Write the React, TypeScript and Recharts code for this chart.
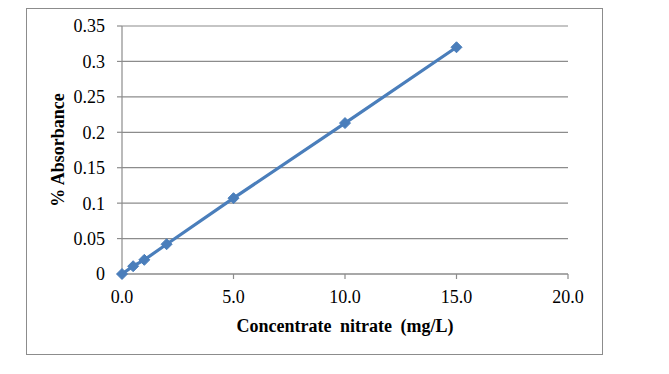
import React from 'react';
import { LineChart, Line, XAxis, YAxis, CartesianGrid } from 'recharts';

const concentrations = [0, 0.5, 1, 2, 5, 10, 15];
const absorbance = [0, 0.011, 0.02, 0.042, 0.107, 0.213, 0.32];
const xTicks = [0, 5, 10, 15, 20];
const yTicks = [0, 0.05, 0.1, 0.15, 0.2, 0.25, 0.3, 0.35];
const yTickLabels = ['0', '0.05', '0.1', '0.15', '0.2', '0.25', '0.3', '0.35'];

const data = concentrations.map((c, i) => ({ x: c, y: absorbance[i] }));

const FONT = '"Liberation Serif", "Times New Roman", serif';
const BLUE = '#4A7EBB';
const GRAY = '#8C8C8C';

const Diamond = (props: any) => {
  const { cx, cy, index } = props;
  if (cx == null || cy == null) return null;
  const r = 5.5;
  return (
    <path
      key={`d-${index}`}
      d={`M${cx},${cy - r} L${cx + r},${cy} L${cx},${cy + r} L${cx - r},${cy} Z`}
      fill={BLUE}
      stroke={BLUE}
      strokeWidth={1}
    />
  );
};

export default function App() {
  return (
    <div style={{ position: 'absolute', left: 0, top: 0, width: 669, height: 374, background: '#fff' }}>
      <div
        style={{
          position: 'absolute',
          left: 26,
          top: 8,
          width: 575,
          height: 345,
          border: `1.5px solid ${GRAY}`,
        }}
      />
      <div style={{ position: 'absolute', left: 0, top: 0 }}>
        <LineChart
          width={669}
          height={374}
          data={data}
          margin={{ top: 26, right: 101, bottom: 20, left: 0 }}
        >
          <CartesianGrid horizontal vertical={false} stroke={GRAY} strokeWidth={1.2} />
          <XAxis
            type="number"
            dataKey="x"
            domain={[0, 20]}
            ticks={xTicks}
            tickFormatter={(v: number) => v.toFixed(1)}
            height={80}
            stroke={GRAY}
            tickSize={5}
            tickMargin={11}
            tick={{ fill: '#000', fontSize: 18, fontFamily: FONT }}
            axisLine={{ stroke: GRAY, strokeWidth: 1.2 }}
            tickLine={{ stroke: GRAY, strokeWidth: 1.2 }}
            label={{
              value: 'Concentrate nitrate (mg/L)',
              position: 'insideBottom',
              offset: 22,
              style: { fill: '#000', fontSize: 18, fontWeight: 'bold', fontFamily: FONT, wordSpacing: 4 },
            }}
          />
          <YAxis
            type="number"
            dataKey="y"
            domain={[0, 0.35]}
            ticks={yTicks}
            tickFormatter={(v: number) => yTickLabels[yTicks.findIndex((t) => Math.abs(t - v) < 1e-9)] ?? String(v)}
            width={122}
            stroke={GRAY}
            tickSize={5}
            tickMargin={12}
            tick={{ fill: '#000', fontSize: 18, fontFamily: FONT }}
            axisLine={{ stroke: GRAY, strokeWidth: 1.2 }}
            tickLine={{ stroke: GRAY, strokeWidth: 1.2 }}
            label={{
              value: '% Absorbance',
              angle: -90,
              position: 'insideLeft',
              offset: 58,
              style: { fill: '#000', fontSize: 18, fontWeight: 'bold', fontFamily: FONT, textAnchor: 'middle' },
            }}
          />
          <Line
            type="linear"
            dataKey="y"
            stroke={BLUE}
            strokeWidth={3.2}
            dot={Diamond}
            activeDot={false}
            isAnimationActive={false}
          />
        </LineChart>
      </div>
    </div>
  );
}
